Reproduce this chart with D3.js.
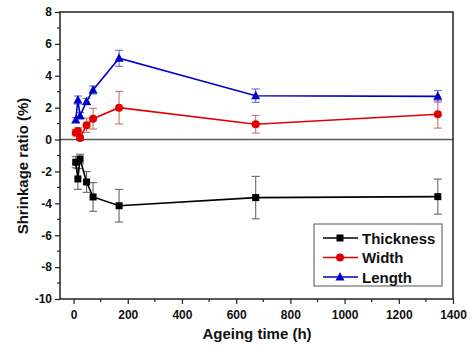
<!DOCTYPE html>
<html><head><meta charset="utf-8">
<script src="https://cdn.jsdelivr.net/npm/d3@7"></script>
<style>body{margin:0;background:#fff}text{font-family:"Liberation Sans",Arial,sans-serif;font-weight:bold}</style>
</head><body><svg id="c" width="474" height="347"></svg>
<script>
const times = [8, 16, 24, 48, 72, 168, 672, 1344];
const thickness = [-1.42, -2.47, -1.22, -2.66, -3.6, -4.15, -3.64, -3.58];
const thicknessErr = [0.35, 0.65, 0.3, 0.65, 0.9, 1.02, 1.33, 1.1];
const width = [0.43, 0.54, 0.1, 0.9, 1.31, 2.0, 0.96, 1.59];
const widthErr = [0.2, 0.2, 0.15, 0.45, 0.65, 1.02, 0.55, 0.87];
const length = [1.23, 2.48, 1.5, 2.38, 3.11, 5.1, 2.75, 2.71];
const lengthErr = [0.15, 0.25, 0.2, 0.2, 0.25, 0.5, 0.42, 0.36];
const xTicks = [0, 200, 400, 600, 800, 1000, 1200, 1400];
const yTicks = [-10, -8, -6, -4, -2, 0, 2, 4, 6, 8];
const seriesNames = ["Thickness", "Width", "Length"];

const svg = d3.select("#c");
const L = 60, R = 453, T = 12, B = 299;
const x = d3.scaleLinear().domain([-50, 1400]).range([L, R]);
const y = d3.scaleLinear().domain([-10, 8]).range([B, T]);
const fmt = d => String(d);

const series = [
  {name: seriesNames[0], v: thickness, e: thicknessErr, color: "#000", errColor: "#666", shape: "square"},
  {name: seriesNames[1], v: width, e: widthErr, color: "#e00000", errColor: "#c87070", shape: "circle"},
  {name: seriesNames[2], v: length, e: lengthErr, color: "#0000cc", errColor: "#6b6bc4", shape: "triangle"}
];

// zero line
svg.append("line").attr("x1", L).attr("x2", R).attr("y1", y(0)).attr("y2", y(0))
  .attr("stroke", "#555").attr("stroke-width", 1.6);

// axes
const yAxis = d3.axisLeft(y).tickValues(yTicks).tickSize(5).tickPadding(3).tickFormat(fmt);
const gy = svg.append("g").attr("transform", `translate(${L},0)`).call(yAxis);
const xAxis = d3.axisBottom(x).tickValues(xTicks).tickSize(5).tickPadding(6).tickFormat(fmt);
const gx = svg.append("g").attr("transform", `translate(0,${B})`).call(xAxis);
[gx, gy].forEach(g => {
  g.select(".domain").remove();
  g.selectAll("line").attr("stroke", "#222").attr("stroke-width", 1.2);
  g.selectAll("text").attr("font-size", 12).attr("fill", "#111").style("font-weight", "bold");
});
// minor ticks
const yMinor = d3.range(-9, 8, 2);
svg.append("g").selectAll("line").data(yMinor).join("line")
  .attr("x1", L - 3).attr("x2", L).attr("y1", d => y(d)).attr("y2", d => y(d)).attr("stroke", "#222").attr("stroke-width", 1.2);
const xMinor = d3.range(100, 1400, 200);
svg.append("g").selectAll("line").data(xMinor).join("line")
  .attr("y1", B).attr("y2", B + 3).attr("x1", d => x(d)).attr("x2", d => x(d)).attr("stroke", "#222").attr("stroke-width", 1.2);

// frame
svg.append("rect").attr("x", L).attr("y", T).attr("width", R - L).attr("height", B - T)
  .attr("fill", "none").attr("stroke", "#222").attr("stroke-width", 1.5);

// error bars
series.forEach(s => {
  const g = svg.append("g").attr("stroke", s.errColor).attr("stroke-width", 1.1);
  times.forEach((t, i) => {
    const cx = x(t), y1 = y(s.v[i] + s.e[i]), y2 = y(s.v[i] - s.e[i]);
    g.append("line").attr("x1", cx).attr("x2", cx).attr("y1", y1).attr("y2", y2);
    g.append("line").attr("x1", cx - 4).attr("x2", cx + 4).attr("y1", y1).attr("y2", y1);
    g.append("line").attr("x1", cx - 4).attr("x2", cx + 4).attr("y1", y2).attr("y2", y2);
  });
});

function marker(g, shape, cx, cy, color) {
  if (shape === "square") g.append("rect").attr("x", cx - 3.5).attr("y", cy - 3.5).attr("width", 7).attr("height", 7).attr("fill", color);
  else if (shape === "circle") g.append("circle").attr("cx", cx).attr("cy", cy).attr("r", 4).attr("fill", color);
  else g.append("path").attr("d", `M${cx},${cy - 5}L${cx + 4.5},${cy + 3.5}L${cx - 4.5},${cy + 3.5}Z`).attr("fill", color);
}

// lines + markers
const line = d3.line().x((d, i) => x(times[i])).y(d => y(d));
series.forEach(s => {
  svg.append("path").datum(s.v).attr("d", line).attr("fill", "none").attr("stroke", s.color).attr("stroke-width", 1.6);
  const g = svg.append("g");
  s.v.forEach((v, i) => marker(g, s.shape, x(times[i]), y(v), s.color));
});

// legend
const lg = svg.append("g");
lg.append("rect").attr("x", 314).attr("y", 224).attr("width", 128).attr("height", 62)
  .attr("fill", "#fff").attr("stroke", "#555").attr("stroke-width", 1);
series.forEach((s, i) => {
  const ly = 238 + i * 19.5;
  lg.append("line").attr("x1", 323).attr("x2", 358).attr("y1", ly).attr("y2", ly).attr("stroke", s.color).attr("stroke-width", 1.6);
  marker(lg, s.shape, 340, ly, s.color);
  lg.append("text").attr("x", 362).attr("y", ly + 5.5).attr("font-size", 15).attr("fill", "#111").text(s.name);
});

// titles
svg.append("text").attr("x", 257).attr("y", 339).attr("text-anchor", "middle").attr("font-size", 15).attr("fill", "#111").text("Ageing time (h)");
svg.append("text").attr("transform", `translate(28,166) rotate(-90)`).attr("text-anchor", "middle")
  .attr("font-size", 15).attr("fill", "#111").text("Shrinkage ratio (%)");
</script></body></html>
